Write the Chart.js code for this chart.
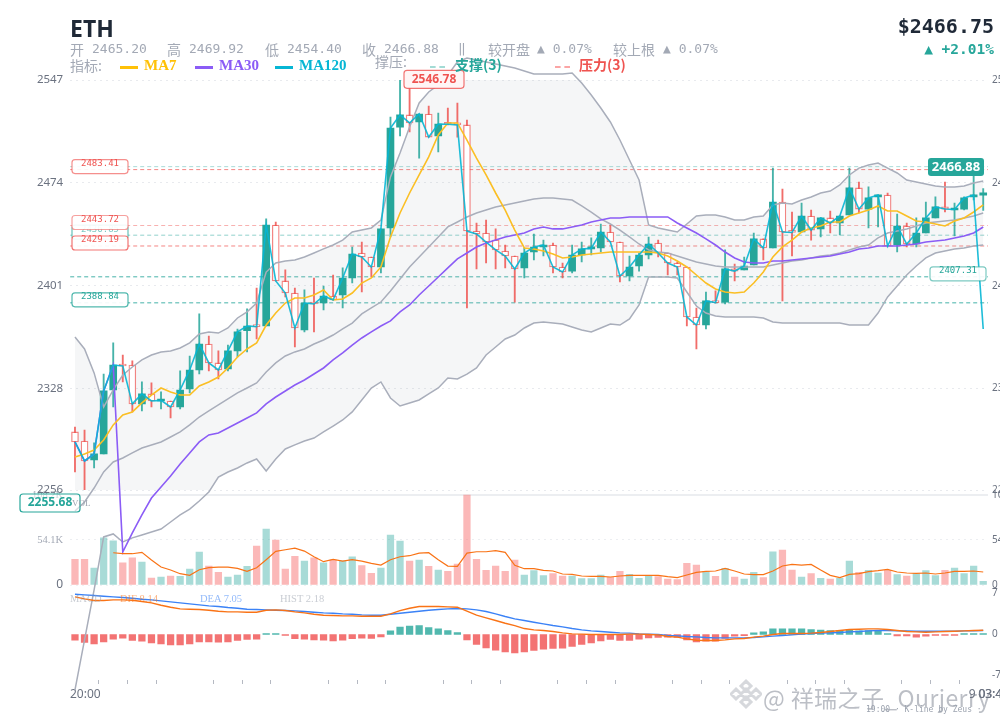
<!DOCTYPE html>
<html>
<head>
<meta charset="utf-8">
<title>ETH</title>
<script src="https://cdn.jsdelivr.net/npm/chart.js@4/dist/chart.umd.js"></script>
<style>
  html, body { margin: 0; padding: 0; background: #fff; overflow: hidden; }
  #wrap { position: relative; width: 1000px; height: 720px; overflow: hidden; }
  canvas { position: absolute; left: 0; top: 0; }
  .t { position: absolute; white-space: nowrap; line-height: 1; }
  .mono { font-family: "DejaVu Sans Mono", monospace; font-size: 13px; color: #a3a9b5; }
  .cjk { font-family: "Noto Sans CJK SC", sans-serif; font-size: 14px; color: #a3a9b5; }
  .ma { font-family: "Liberation Serif", serif; font-weight: bold; font-size: 15px; }
  .sw { position: absolute; height: 3px; width: 18px; top: 66px; }
  .sr { font-family: "Noto Sans CJK SC", sans-serif; font-weight: bold; font-size: 14px; }
  .sub { font-family: "Liberation Serif", serif; font-size: 10.5px; opacity: .55; }
</style>
</head>
<body>
<div id="wrap">
  <canvas id="kline" width="1000" height="720"></canvas>

  <div class="t" style="left:70px;top:12px;font:bold 23px 'Noto Sans',sans-serif;color:#1f2937">ETH</div>
  <div class="t" style="right:6px;top:14px;font:bold 20px 'DejaVu Sans Mono',monospace;color:#1f2937">$2466.75</div>

  <div class="t cjk" style="left:70px;top:42px">开</div><div class="t mono" style="left:92px;top:42px">2465.20</div>
  <div class="t cjk" style="left:167px;top:42px">高</div><div class="t mono" style="left:189px;top:42px">2469.92</div>
  <div class="t cjk" style="left:265px;top:42px">低</div><div class="t mono" style="left:287px;top:42px">2454.40</div>
  <div class="t cjk" style="left:362px;top:42px">收</div><div class="t mono" style="left:384px;top:42px">2466.88</div>
  <div class="t mono" style="left:458px;top:42px">‖</div>
  <div class="t cjk" style="left:488px;top:42px">较开盘</div><div class="t mono" style="left:537px;top:42px">▲ 0.07%</div>
  <div class="t cjk" style="left:613px;top:42px">较上根</div><div class="t mono" style="left:663px;top:42px">▲ 0.07%</div>
  <div class="t" style="right:6px;top:41px;font:bold 14.5px 'DejaVu Sans Mono',monospace;color:#26a69a">▲ +2.01%</div>

  <div class="t cjk" style="left:70px;top:58px">指标:</div>
  <div class="sw" style="left:120px;background:#ffc107"></div><div class="t ma" style="left:144px;top:58px;color:#ffc107">MA7</div>
  <div class="sw" style="left:195px;background:#8b5cf6"></div><div class="t ma" style="left:219px;top:58px;color:#8b5cf6">MA30</div>
  <div class="sw" style="left:275px;background:#06b6d4"></div><div class="t ma" style="left:299px;top:58px;color:#06b6d4">MA120</div>
  <div class="t cjk" style="left:375px;top:54px">撑压:</div>
  <div class="t" style="left:430px;top:66px;width:15px;border-top:2px dashed #a3dbd5"></div>
  <div class="t sr" style="left:455px;top:57px;color:#26a69a">支撑(3)</div>
  <div class="t" style="left:555px;top:66px;width:15px;border-top:2px dashed #fba5a5"></div>
  <div class="t sr" style="left:579px;top:57px;color:#ef5350">压力(3)</div>

  <div class="t sub" style="left:70px;top:594px;color:#9ca3af">MACD</div>
  <div class="t sub" style="left:120px;top:594px;color:#f97316">DIF 8.14</div>
  <div class="t sub" style="left:200px;top:594px;color:#3b82f6">DEA 7.05</div>
  <div class="t sub" style="left:280px;top:594px;color:#9ca3af">HIST 2.18</div>

  <svg class="t" style="left:730px;top:678px;opacity:.28" width="32" height="32" viewBox="0 0 32 32" fill="none" stroke="#6b7280" stroke-width="3">
    <path d="M16 3l5 5-5 5-5-5zM6 11l5 5-5 5-5-5zM26 11l5 5-5 5-5-5zM16 19l5 5-5 5-5-5zM16 11l5 5-5 5-5-5z"/>
  </svg>
  <div class="t" style="left:763px;top:680px;font:23px 'Noto Sans CJK SC',sans-serif;color:#6b7280;opacity:.45;letter-spacing:.4px">@ 祥瑞之子_Ourjerry</div>
  <div class="t" style="left:866px;top:705px;font:8px 'DejaVu Sans Mono',monospace;color:#9ca3af">19:00 · K-line by Zeus ·</div>
</div>

<script>
'use strict';

// candles
var opens = [
  2297.2,2290.8,2277.3,2281.6,2327.0,2344.7,2344.7,2317.1,2324.2,2319.2,2319.2,2314.9,
  2327.7,2341.2,2359.6,2346.2,2341.9,2354.7,2369.0,2372.4,2372.4,2444.1,2404.4,2395.8,
  2369.6,2388.7,2388.7,2393.7,2394.4,2406.5,2424.2,2421.4,2414.3,2442.0,2513.6,2522.2,
  2517.2,2522.9,2507.3,2516.2,2515.6,2515.1,2439.8,2438.4,2433.4,2425.6,2422.1,2413.6,
  2424.9,2428.5,2429.9,2414.3,2411.4,2422.8,2427.1,2427.8,2439.1,2432.0,2407.9,2415.0,
  2422.8,2431.3,2424.2,2417.1,2414.3,2378.8,2373.1,2390.2,2389.4,2412.9,2412.2,2415.7,
  2434.2,2427.8,2460.4,2439.1,2439.1,2450.5,2441.3,2449.1,2445.5,2451.2,2470.4,2455.4,
  2464.0,2465.4,2429.9,2443.4,2430.6,2438.4,2449.1,2456.9,2454.7,2455.4,2464.0,2465.2
];
var highs = [
  2300.7,2298.6,2289.4,2338.3,2360.4,2351.8,2347.6,2332.7,2332.0,2325.6,2319.2,2340.5,
  2351.1,2381.0,2365.3,2354.7,2358.9,2370.3,2384.5,2399.4,2448.4,2446.2,2412.2,2399.4,
  2398.0,2406.5,2400.8,2408.6,2413.6,2428.5,2432.0,2421.4,2441.3,2520.7,2547.0,2546.78,
  2522.9,2528.5,2523.6,2527.1,2530.7,2518.6,2445.5,2447.6,2441.3,2429.9,2422.1,2427.8,
  2437.7,2433.4,2431.3,2417.1,2429.9,2432.0,2434.9,2444.8,2444.1,2432.0,2422.1,2424.2,
  2435.6,2433.4,2424.2,2417.8,2414.3,2385.2,2396.5,2397.3,2426.4,2416.4,2421.4,2438.4,
  2434.2,2484.5,2469.6,2453.3,2459.7,2454.7,2449.1,2454.0,2450.5,2484.5,2474.6,2471.1,
  2465.4,2466.8,2451.9,2445.5,2449.1,2460.4,2464.0,2474.6,2459.7,2464.0,2478.9,2469.92
];
var lows = [
  2268.8,2256.0,2271.6,2281.6,2314.9,2332.7,2311.4,2312.1,2314.9,2313.5,2307.1,2313.5,
  2324.9,2338.3,2340.5,2334.8,2340.5,2350.4,2354.0,2363.2,2372.4,2404.4,2393.0,2357.5,
  2368.2,2368.2,2383.8,2390.9,2385.2,2402.9,2396.5,2407.2,2410.0,2435.6,2507.3,2510.1,
  2491.6,2506.5,2495.9,2515.1,2506.5,2385.2,2412.9,2417.1,2412.9,2413.6,2389.4,2406.5,
  2419.3,2422.1,2410.0,2406.5,2410.0,2417.8,2422.8,2424.9,2432.0,2403.6,2404.4,2411.4,
  2420.0,2421.4,2408.6,2408.6,2372.4,2356.1,2370.3,2388.7,2388.0,2404.4,2412.2,2415.7,
  2419.3,2427.8,2390.2,2422.1,2439.1,2433.4,2435.6,2438.4,2437.0,2451.2,2452.6,2442.0,
  2442.7,2428.5,2424.9,2428.5,2428.5,2438.4,2449.1,2453.3,2436.3,2454.7,2461.8,2454.40
];
var closes = [
  2290.1,2276.6,2281.6,2326.3,2344.7,2344.0,2317.1,2324.2,2319.2,2319.6,2314.9,2327.0,
  2341.2,2359.6,2346.2,2341.2,2354.7,2368.2,2372.4,2372.0,2444.1,2404.4,2395.8,2371.0,
  2388.7,2388.0,2393.7,2390.9,2406.5,2423.5,2421.4,2414.3,2441.3,2512.9,2522.2,2516.5,
  2522.9,2506.5,2515.8,2515.6,2515.1,2439.8,2437.7,2432.0,2426.4,2422.1,2412.9,2424.2,
  2428.5,2429.9,2414.3,2410.7,2422.8,2427.1,2427.5,2439.1,2432.0,2407.9,2414.3,2422.8,
  2430.6,2424.2,2417.1,2414.3,2378.8,2373.1,2390.2,2389.0,2412.9,2411.4,2415.0,2434.2,
  2427.8,2460.4,2439.1,2438.8,2450.5,2440.5,2449.1,2445.5,2450.5,2470.4,2455.4,2463.3,
  2465.4,2429.2,2443.4,2430.6,2438.4,2449.1,2456.9,2455.4,2455.1,2463.3,2465.4,2466.88
];

var ma7 = [
  2279.4,2281.6,2284.4,2291.5,2302.2,2309.3,2311.4,2317.8,2323.4,2328.4,2325.6,2323.4,
  2323.4,2329.8,2332.7,2336.2,2342.6,2350.4,2356.1,2360.4,2373.1,2381.6,2388.7,2392.3,
  2392.3,2394.4,2398.0,2390.9,2391.6,2395.8,2402.9,2406.5,2414.3,2435.6,2452.6,2466.8,
  2479.6,2492.4,2508.0,2516.5,2516.5,2504.4,2491.6,2479.6,2466.8,2454.7,2440.5,2427.8,
  2427.1,2425.6,2423.5,2420.7,2421.4,2422.8,2423.5,2424.2,2424.9,2424.9,2424.9,2424.9,
  2424.9,2424.2,2422.1,2418.5,2414.3,2408.6,2402.9,2398.7,2396.5,2395.8,2396.5,2402.9,
  2410.7,2421.4,2428.5,2433.4,2439.1,2442.0,2443.4,2446.2,2446.2,2450.5,2452.6,2454.7,
  2457.6,2454.0,2454.0,2450.5,2446.9,2446.2,2444.8,2443.4,2446.9,2449.1,2453.3,2458.3
];
// MA30 sits on the closes for the first candles, then drops far below the pane
var ma30 = closes.slice(0, 5).concat([
  2212.0,2225.5,2238.3,2250.3,2258.2,2266.0,2274.5,
  2282.3,2290.1,2295.1,2296.5,2300.0,2303.6,2307.1,2310.7,2317.1,2322.0,2326.3,2330.5,
  2334.1,2338.3,2342.6,2348.3,2353.3,2358.9,2363.9,2368.2,2372.4,2376.0,2382.4,2387.3,
  2394.4,2400.8,2407.2,2413.6,2420.0,2424.2,2428.5,2431.3,2433.4,2435.6,2437.0,2438.4,
  2441.3,2442.7,2441.3,2441.3,2442.7,2444.1,2446.2,2447.6,2449.1,2449.1,2449.8,2449.8,
  2449.8,2449.8,2449.8,2445.5,2442.0,2438.4,2434.2,2429.9,2424.9,2420.7,2417.8,2417.1,
  2417.1,2418.5,2418.5,2419.3,2420.0,2420.7,2421.4,2422.1,2423.5,2424.9,2427.1,2427.8,
  2429.2,2429.2,2429.2,2429.9,2430.6,2432.0,2432.7,2433.4,2434.9,2436.3,2438.4,2442.7
]);
// MA120 follows the closes, only the last point falls away
var ma120 = closes.slice(0, 95).concat([2370.3]);

var bollUpper = [
  2364.6,2356.1,2339.1,2314.9,2327.0,2337.6,2343.3,2348.3,2351.8,2354.0,2354.7,2356.8,
  2360.4,2366.7,2368.2,2367.4,2371.0,2378.1,2382.4,2388.7,2410.7,2417.1,2418.5,2419.3,
  2421.4,2424.2,2427.1,2429.9,2433.4,2439.1,2440.5,2442.0,2447.6,2478.2,2495.2,2513.6,
  2530.7,2538.5,2543.5,2550.5,2559.8,2562.6,2561.2,2559.8,2558.4,2556.9,2555.5,2553.4,
  2551.3,2551.3,2551.3,2551.3,2552.0,2544.9,2536.4,2527.1,2517.2,2504.4,2490.2,2476.0,
  2444.1,2442.0,2440.5,2439.1,2444.8,2450.5,2451.2,2451.2,2449.8,2447.6,2447.6,2449.8,
  2450.5,2458.3,2459.7,2459.0,2461.8,2464.0,2466.8,2468.2,2472.5,2479.6,2484.5,2486.7,
  2488.1,2484.5,2481.0,2476.0,2474.6,2473.2,2471.8,2471.1,2471.1,2471.8,2473.9,2475.3
];
var bollMiddle = [
  2241.1,2247.5,2257.4,2268.8,2275.9,2278.7,2282.3,2285.8,2288.0,2290.1,2293.6,2297.2,
  2302.2,2307.8,2312.1,2316.4,2320.6,2324.9,2328.4,2332.0,2339.8,2346.2,2351.1,2354.0,
  2356.1,2359.6,2362.5,2366.0,2370.3,2374.5,2381.0,2385.2,2389.4,2397.3,2405.8,2414.3,
  2421.4,2428.5,2435.6,2442.7,2446.2,2449.8,2452.6,2454.7,2456.9,2458.3,2459.7,2461.1,
  2462.5,2463.3,2463.3,2462.5,2461.8,2457.6,2453.3,2448.4,2444.8,2440.5,2435.6,2430.6,
  2426.4,2424.9,2424.2,2422.1,2420.0,2417.8,2416.4,2415.0,2414.3,2414.3,2414.3,2414.3,
  2414.3,2415.7,2417.1,2418.5,2419.3,2420.7,2422.1,2422.8,2424.2,2426.4,2428.5,2429.9,
  2434.9,2438.4,2439.8,2441.3,2443.4,2445.5,2446.2,2446.9,2447.6,2449.1,2450.5,2452.6
];
var bollLower = [
  2114.1,2149.6,2185.1,2222.7,2224.8,2219.1,2222.0,2224.1,2226.2,2228.3,2233.3,2238.3,
  2242.5,2248.2,2254.6,2265.2,2268.8,2271.6,2275.2,2278.0,2269.5,2278.0,2285.1,2288.0,
  2290.8,2292.9,2297.2,2301.4,2305.7,2311.4,2319.9,2328.4,2332.7,2321.3,2315.6,2317.8,
  2319.9,2324.2,2328.4,2335.5,2334.8,2338.3,2342.6,2351.8,2357.5,2363.2,2366.0,2371.0,
  2374.5,2375.2,2374.5,2373.8,2371.7,2369.6,2368.2,2371.0,2373.8,2373.1,2377.4,2387.3,
  2407.2,2407.2,2407.2,2406.5,2396.5,2386.6,2381.6,2379.5,2378.8,2378.8,2378.8,2378.8,
  2378.1,2375.2,2374.5,2374.5,2374.5,2374.5,2374.5,2374.5,2374.5,2373.1,2373.1,2373.1,
  2381.6,2393.0,2400.8,2408.6,2415.0,2420.7,2424.2,2425.6,2427.1,2427.8,2429.2,2429.9
];

// volume in K
var volumes = [
  30.8,30.8,20.4,56.8,53.2,26.8,32.8,27.6,8.4,9.6,10.8,10.4,
  19.2,39.6,22.8,15.2,9.6,12.0,22.4,46.8,67.2,54.0,19.2,34.4,
  28.8,32.8,26.8,30.0,29.2,34.0,23.2,14.0,20.4,60.0,52.8,28.8,
  30.0,22.4,18.0,16.4,25.2,108.0,30.8,17.6,22.8,16.4,30.0,12.0,
  17.2,11.2,13.6,10.8,10.8,7.6,7.6,12.0,9.2,16.4,12.8,8.0,
  10.8,10.0,7.2,6.4,26.0,24.0,16.0,10.4,20.0,9.6,7.2,15.2,
  8.8,40.0,42.0,18.0,9.6,13.6,8.0,7.2,8.0,28.8,15.2,17.6,
  14.4,17.6,12.4,10.8,13.6,17.2,11.2,17.6,20.4,13.6,22.8,4.4
];
var volumeMa = [
  null,null,null,null,38.8,37.6,37.6,39.2,30.0,21.6,18.0,13.6,
  11.6,18.4,20.8,21.6,21.6,20.0,16.4,20.8,30.4,40.4,42.4,44.4,
  40.8,34.0,28.0,30.8,28.8,30.4,28.8,26.0,24.0,30.4,34.0,35.2,
  38.4,38.8,30.4,22.8,22.4,38.4,40.0,40.0,41.2,39.2,23.6,19.6,
  19.6,17.6,16.8,13.2,12.8,10.8,10.4,10.4,9.6,10.8,11.6,11.6,
  11.6,11.6,10.0,8.8,12.0,15.2,16.4,16.8,20.0,16.8,13.2,12.4,
  12.4,16.8,22.8,24.8,24.0,24.8,18.0,11.6,8.8,12.8,13.6,16.0,
  17.2,18.8,15.6,14.4,14.0,14.4,13.2,14.4,16.4,16.4,16.8,15.6
];

var macdHist = [
  -0.97,-1.36,-1.59,-1.25,-0.80,-0.63,-1.02,-1.14,-1.42,-1.59,-1.76,-1.76,
  -1.59,-1.25,-1.25,-1.31,-1.25,-1.02,-0.85,-0.80,0.10,0.10,-0.15,-0.70,
  -0.80,-0.90,-0.97,-1.08,-0.97,-0.70,-0.63,-0.68,-0.40,0.62,1.25,1.42,
  1.53,1.19,0.97,0.68,0.34,-0.90,-1.70,-2.27,-2.67,-2.95,-3.13,-2.95,
  -2.73,-2.50,-2.39,-2.33,-2.05,-1.70,-1.42,-1.08,-0.85,-1.02,-1.02,-0.80,
  -0.57,-0.51,-0.45,-0.50,-0.90,-1.25,-1.14,-1.14,-0.68,-0.28,-0.20,0.28,
  0.45,0.97,0.97,0.97,0.97,0.85,0.74,0.68,0.68,0.80,0.62,0.68,
  0.62,0.06,-0.23,-0.23,-0.45,-0.28,-0.05,-0.05,-0.05,0.10,0.06,0.06
];
var macdDif = [
  6.42,6.08,5.80,5.80,5.91,5.91,5.85,5.63,5.40,5.00,4.66,4.38,
  4.32,4.26,4.15,3.98,3.86,3.86,3.81,3.81,4.15,4.20,4.09,3.86,
  3.69,3.47,3.30,3.24,3.18,3.18,3.13,3.13,3.13,3.52,4.09,4.49,
  4.77,4.77,4.77,4.72,4.66,3.98,3.30,2.84,2.39,1.93,1.53,1.02,
  0.80,0.68,0.51,0.28,0.11,0.06,0,0,0,0,0.06,0.06,
  0,-0.06,-0.34,-0.45,-0.74,-0.97,-1.02,-1.02,-0.91,-0.74,-0.68,-0.45,
  -0.28,0,0.17,0.17,0.17,0.23,0.34,0.51,0.68,0.85,0.91,0.97,
  0.97,0.85,0.68,0.51,0.45,0.40,0.45,0.51,0.57,0.63,0.68,0.74
];
var macdDea = [
  6.88,6.76,6.65,6.53,6.42,6.31,6.19,6.02,5.91,5.74,5.57,5.40,
  5.23,5.06,4.89,4.77,4.60,4.49,4.32,4.26,4.20,4.15,4.09,4.03,
  3.92,3.81,3.69,3.64,3.52,3.47,3.35,3.30,3.30,3.47,3.64,3.81,
  3.98,4.15,4.26,4.38,4.43,4.38,4.20,3.92,3.52,3.07,2.67,2.39,
  2.10,1.82,1.53,1.31,1.02,0.80,0.63,0.51,0.40,0.28,0.23,0.11,
  0.06,0,-0.17,-0.23,-0.34,-0.40,-0.51,-0.57,-0.57,-0.57,-0.57,-0.51,
  -0.40,-0.28,-0.17,-0.06,0.06,0.17,0.23,0.28,0.34,0.45,0.51,0.63,
  0.68,0.68,0.63,0.63,0.57,0.57,0.57,0.57,0.57,0.63,0.63,0.68
];

// tick labels and levels
var priceTicks = [2547, 2474, 2401, 2328, 2256];
var volumeTicks = [108.2, 54.1, 0];
var macdTicks = [7, 0, -7];
var timeLabels = { 0: '20:00', 94: '9 03:45', 95: '03:45' };
var supportLevels = [2485.5, 2436.85, 2407.31, 2388.84];
var resistanceLevels = [2483.41, 2443.72, 2429.19];

var GREEN = '#26a69a';
var RED = '#ef5350';

var categories = closes.map(function (c, i) { return i; });
var isUp = closes.map(function (c, i) { return c >= opens[i]; });

function line(label, data, color, yAxisID, width, order) {
  return {
    type: 'line', label: label, data: data, yAxisID: yAxisID,
    borderColor: color, borderWidth: width, pointRadius: 0,
    tension: 0, fill: false, clip: false, order: order, spanGaps: false
  };
}

function bar(label, data, yAxisID, colors, thickness, order) {
  return {
    type: 'bar', label: label, data: data, yAxisID: yAxisID,
    backgroundColor: colors, barThickness: thickness,
    grouped: false, borderWidth: 0, order: order
  };
}

function tickValue(ctx) {
  return ctx.tick ? ctx.tick.value : null;
}

var wicks = bar('wick', lows.map(function (l, i) { return [l, highs[i]]; }), 'yPrice',
  isUp.map(function (u) { return u ? 'rgba(38,166,154,.85)' : 'rgba(239,83,80,.85)'; }), 1.2, 40);

var bodies = bar('body', opens.map(function (o, i) { return [o, closes[i]]; }), 'yPrice',
  isUp.map(function (u) { return u ? GREEN : '#fff'; }), 7, 30);
bodies.borderColor = isUp.map(function (u) { return u ? GREEN : 'rgba(239,83,80,.7)'; });
bodies.borderWidth = isUp.map(function (u) { return u ? 0 : 1.3; });
bodies.borderSkipped = false;
bodies.minBarLength = 2;

var volumeBars = bar('vol', volumes, 'yVol',
  isUp.map(function (u) { return u ? 'rgba(38,166,154,.4)' : 'rgba(248,113,113,.5)'; }), 6.6, 30);

var histBars = bar('hist', macdHist, 'yMacd',
  macdHist.map(function (h) { return h >= 0 ? 'rgba(38,166,154,.8)' : 'rgba(239,68,68,.75)'; }), 6.6, 30);
histBars.minBarLength = 1;

// shade between the bands, held inside the price pane
var bandShade = line('shade', bollUpper, 'transparent', 'yPrice', 0, 100);
bandShade.fill = '+1';
bandShade.backgroundColor = 'rgba(156,163,175,.1)';
delete bandShade.clip;
var bandShadeFloor = line('shadeFloor', bollLower.map(function (v) { return Math.max(v, priceTicks[4]); }), 'transparent', 'yPrice', 0, 101);

// dashed support and resistance lines sit under the candles
var levelLines = {
  id: 'levelLines',
  beforeDatasetsDraw: function (chart) {
    var c = chart.ctx, y = chart.scales.yPrice, a = chart.chartArea;
    function draw(levels, rgb, alphas) {
      levels.forEach(function (v, i) {
        var py = y.getPixelForValue(v);
        c.save();
        c.strokeStyle = 'rgba(' + rgb + ',' + alphas[i] + ')';
        c.lineWidth = 1;
        c.setLineDash([4, 3]);
        c.beginPath();
        c.moveTo(a.left, py);
        c.lineTo(a.right, py);
        c.stroke();
        c.restore();
      });
    }
    draw(supportLevels, '38,166,154', [.4, .5, .85, .85]);
    draw(resistanceLevels, '239,83,80', [.7, .45, .7]);
  }
};

function roundBox(c, x, y, w, h, stroke, fill) {
  c.beginPath();
  c.roundRect(x, y, w, h, 3);
  c.fillStyle = fill;
  c.fill();
  c.lineWidth = 1.2;
  c.strokeStyle = stroke;
  c.stroke();
}

var priceTags = {
  id: 'priceTags',
  afterDatasetsDraw: function (chart) {
    var c = chart.ctx, y = chart.scales.yPrice;
    c.save();
    c.textBaseline = 'middle';
    c.textAlign = 'center';

    function levelTag(v, x, stroke, color) {
      var py = y.getPixelForValue(v);
      roundBox(c, x, py - 10, 56, 14, stroke, 'rgba(255,255,255,.92)');
      c.font = '9px "DejaVu Sans Mono", monospace';
      c.fillStyle = color;
      c.fillText(v.toFixed(2), x + 28, py - 6);
    }
    levelTag(supportLevels[1], 72, 'rgba(38,166,154,.7)', 'rgba(38,166,154,.6)');
    levelTag(resistanceLevels[0], 72, 'rgba(239,83,80,.65)', RED);
    levelTag(resistanceLevels[1], 72, 'rgba(239,83,80,.55)', RED);
    levelTag(resistanceLevels[2], 72, 'rgba(239,83,80,.8)', RED);
    levelTag(supportLevels[3], 72, 'rgba(38,166,154,.8)', GREEN);
    levelTag(supportLevels[2], 930, 'rgba(38,166,154,.6)', GREEN);

    // high marker
    roundBox(c, 404, y.getPixelForValue(highs[35]) - 10, 60, 18, 'rgba(239,83,80,.8)', '#fff5f5');
    c.font = 'bold 12px "Noto Sans", sans-serif';
    c.fillStyle = RED;
    c.fillText(highs[35].toFixed(2), 434, y.getPixelForValue(highs[35]) - 1);

    // low marker, hangs under the pane over the volume axis label
    var lowY = y.getPixelForValue(lows[1]);
    roundBox(c, 20, lowY + 4, 60, 18, GREEN, 'rgba(255,255,255,.55)');
    c.fillStyle = GREEN;
    c.fillText('2255.68', 50, lowY + 13);
    c.font = '9px "Liberation Serif", serif';
    c.fillStyle = '#9ca3af';
    c.textAlign = 'left';
    c.fillText('VOL', 72, lowY + 14);
    c.textAlign = 'center';

    // last price
    var lastY = y.getPixelForValue(closes[95]);
    c.beginPath();
    c.roundRect(928, lastY - 35, 56, 18, 3);
    c.fillStyle = GREEN;
    c.fill();
    c.font = 'bold 13px "Noto Sans", sans-serif';
    c.fillStyle = '#fff';
    c.fillText(closes[95].toFixed(2), 956, lastY - 26);
    c.restore();
  }
};

function fixedWidth(w) {
  return function (scale) { scale.width = w; };
}

function fixedTicks(values) {
  return function (scale) {
    scale.ticks = values.map(function (v) { return { value: v }; });
  };
}

function volLabel(v) {
  return v === 0 ? '0' : v + 'K';
}

new Chart(document.getElementById('kline').getContext('2d'), {
  data: {
    labels: categories,
    datasets: [
      bandShade,
      bandShadeFloor,
      wicks,
      bodies,
      line('BOLL upper', bollUpper, '#a9aebb', 'yPrice', 1.5, 20),
      line('BOLL middle', bollMiddle, '#a9aebb', 'yPrice', 1.5, 20),
      line('BOLL lower', bollLower, '#a9aebb', 'yPrice', 1.5, 20),
      line('MA30', ma30, '#8b5cf6', 'yPrice', 1.6, 12),
      line('MA7', ma7, '#fbbf24', 'yPrice', 1.6, 11),
      line('MA120', ma120, 'rgba(6,182,212,.9)', 'yPrice', 1.6, 10),
      volumeBars,
      line('VOL MA', volumeMa, '#f97316', 'yVol', 1.2, 10),
      histBars,
      line('DEA', macdDea, '#3b82f6', 'yMacd', 1.4, 10),
      line('DIF', macdDif, '#f97316', 'yMacd', 1.4, 9)
    ]
  },
  plugins: [levelLines, priceTags],
  options: {
    responsive: false,
    animation: false,
    devicePixelRatio: 1,
    layout: { padding: { top: 80, left: 0, right: 0, bottom: 0 } },
    plugins: { legend: { display: false }, tooltip: { enabled: false } },
    scales: {
      x: {
        type: 'category',
        offset: true,
        // the last time labels run off the page, do not let them squeeze the plot
        afterFit: function (scale) {
          scale.height = 40;
          scale.paddingLeft = 0;
          scale.paddingRight = 0;
        },
        border: { display: false },
        grid: {
          offset: true,
          drawOnChartArea: false,
          tickLength: 4,
          tickWidth: 1,
          tickColor: function (ctx) {
            return (ctx.index % 3 === 0 && ctx.index % 12 !== 0) ? '#b5b9c2' : 'transparent';
          }
        },
        ticks: {
          autoSkip: false,
          maxRotation: 0,
          align: 'start',
          labelOffset: -5,
          padding: 3,
          color: '#6b7280',
          font: { family: '"Noto Sans", sans-serif', size: 12 },
          callback: function (v, i) { return timeLabels[i] || ''; }
        }
      },
      yMacd: {
        position: 'left', stack: 'left', stackWeight: 95,
        min: -7.76, max: 8.45,
        afterFit: fixedWidth(70.2),
        afterBuildTicks: fixedTicks(macdTicks),
        border: { display: false },
        grid: { display: false },
        ticks: { display: false }
      },
      yVol: {
        position: 'left', stack: 'left', stackWeight: 95,
        min: 0, max: 114.2,
        afterFit: fixedWidth(70.2),
        afterBuildTicks: fixedTicks(volumeTicks),
        border: {
          display: false,
          dash: function (ctx) { return tickValue(ctx) === volumeTicks[0] ? [] : [2, 4]; }
        },
        grid: {
          drawTicks: false,
          color: function (ctx) { return tickValue(ctx) === 0 ? '#f0f1f3' : '#eceef1'; },
          lineWidth: function (ctx) { return tickValue(ctx) === volumeTicks[0] ? 2 : 1; }
        },
        ticks: {
          padding: 7,
          color: function (ctx) { return tickValue(ctx) === 0 ? '#6b7280' : '#a3a9b5'; },
          font: function (ctx) {
            return tickValue(ctx) === 0
              ? { family: '"Noto Sans", sans-serif', size: 12 }
              : { family: '"Liberation Serif", serif', size: 10.5 };
          },
          callback: volLabel
        }
      },
      yPrice: {
        position: 'left', stack: 'left', stackWeight: 410,
        min: 2256, max: 2547,
        afterFit: fixedWidth(70.2),
        afterBuildTicks: fixedTicks(priceTicks),
        border: { display: false, dash: [2, 4] },
        grid: { drawTicks: false, color: '#e8eaee' },
        ticks: {
          padding: 7,
          color: '#6b7280',
          font: { family: '"Noto Sans", sans-serif', size: 11.5 },
          callback: function (v) { return String(v); }
        }
      },
      rPrice: {
        position: 'right', stack: 'right', stackWeight: 410,
        min: 2256, max: 2547,
        afterFit: fixedWidth(12),
        afterBuildTicks: fixedTicks(priceTicks),
        border: { display: false },
        grid: { display: false, drawTicks: false },
        ticks: { padding: 4, color: '#6b7280', font: { family: '"Noto Sans", sans-serif', size: 10 }, callback: function (v) { return String(v); } }
      },
      rVol: {
        position: 'right', stack: 'right', stackWeight: 95,
        min: 0, max: 114.2,
        afterFit: fixedWidth(12),
        afterBuildTicks: fixedTicks(volumeTicks),
        border: { display: false },
        grid: { display: false, drawTicks: false },
        ticks: { padding: 4, color: '#6b7280', font: { family: '"Noto Sans", sans-serif', size: 10 }, callback: volLabel }
      },
      rMacd: {
        position: 'right', stack: 'right', stackWeight: 95,
        min: -7.76, max: 8.45,
        afterFit: fixedWidth(12),
        afterBuildTicks: fixedTicks(macdTicks),
        border: { display: false },
        grid: { display: false, drawTicks: false },
        ticks: { padding: 4, color: '#6b7280', font: { family: '"Noto Sans", sans-serif', size: 10 }, callback: function (v) { return String(v); } }
      }
    }
  }
});
</script>
</body>
</html>
